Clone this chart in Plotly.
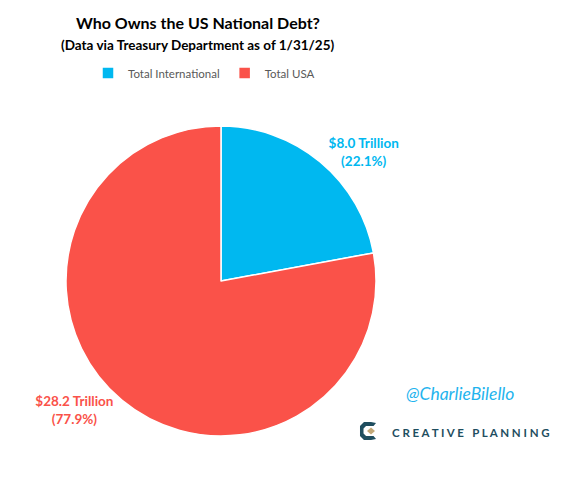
import plotly.graph_objects as go

# values from the chart (trillions of dollars)
holders = ["Total International", "Total USA"]
debt_trillions = [8.0, 28.2]
debt_share = [22.1, 77.9]
slice_colors = ["#00B8F0", "#FA5249"]

labels_text = [f"<b>${v:.1f} Trillion<br>({p:.1f}%)</b>" for v, p in zip(debt_trillions, debt_share)]

W, H = 585, 479
OFF = 8  # page body margin in the browser


def px(x):
    return (x - OFF) / W


def py(y):
    return 1 - (y - OFF) / H


def path_from(points):
    # logo outline given in pixels -> svg path in paper units
    p = "M " + " L ".join(f"{px(x):.4f},{py(y):.4f}" for x, y in points)
    return p + " Z"


logo_c = [(376, 423), (371, 422), (364, 422), (360, 426), (360, 436), (364, 440),
          (371, 440), (376, 439), (373.5, 436), (366, 436), (363.5, 433.5), (363.5, 428.5),
          (366, 426), (373.5, 426)]
logo_diamond = [(367, 431), (371, 427.5), (375, 431), (371, 434.5)]

fig = go.Figure()
fig.add_trace(go.Pie(
    labels=holders,
    values=debt_trillions,
    text=labels_text,
    textinfo="text",
    textposition="outside",
    textfont=dict(family="Lato", size=13.5, color=slice_colors),
    marker=dict(colors=slice_colors, line=dict(color="white", width=1.5)),
    sort=False,
    direction="clockwise",
    rotation=0,
    domain=dict(x=[px(66), px(376)], y=[py(436), py(126)]),
    hoverinfo="label+value+percent",
))

fig.update_layout(
    width=W, height=H,
    paper_bgcolor="white", plot_bgcolor="white",
    margin=dict(l=0, r=0, t=0, b=0),
    font=dict(family="Lato", color="#595959"),
    showlegend=True,
    legend=dict(orientation="h", x=px(204), xanchor="center", y=py(73), yanchor="middle",
                font=dict(size=11.5, color="#595959"), itemwidth=30, tracegroupgap=0),
    shapes=[
        dict(type="path", path=path_from(logo_c), xref="paper", yref="paper",
             fillcolor="#1F4E5F", line=dict(width=0)),
        dict(type="path", path=path_from(logo_diamond), xref="paper", yref="paper",
             fillcolor="#C2A878", line=dict(width=0)),
    ],
    annotations=[
        dict(text="<b>Who Owns the US National Debt?</b>", x=px(198), y=py(23),
             xanchor="center", yanchor="middle",
             xref="paper", yref="paper", showarrow=False, font=dict(size=16, color="black")),
        dict(text="<b>(Data via Treasury Department as of 1/31/25)</b>", x=px(198), y=py(45),
             xanchor="center", yanchor="middle",
             xref="paper", yref="paper", showarrow=False, font=dict(size=13.5, color="black")),
        dict(text="<i>@CharlieBilello</i>", x=px(460), y=py(393),
             xanchor="center", yanchor="middle",
             xref="paper", yref="paper", showarrow=False, font=dict(size=17.5, color="#1FB4EE")),
        dict(text="<b>C R E A T I V E   P L A N N I N G</b>", x=px(471), y=py(432),
             xanchor="center", yanchor="middle",
             xref="paper", yref="paper", showarrow=False, font=dict(size=11.5, color="#1F4E5F")),
    ],
)

fig.write_html("out.html")
